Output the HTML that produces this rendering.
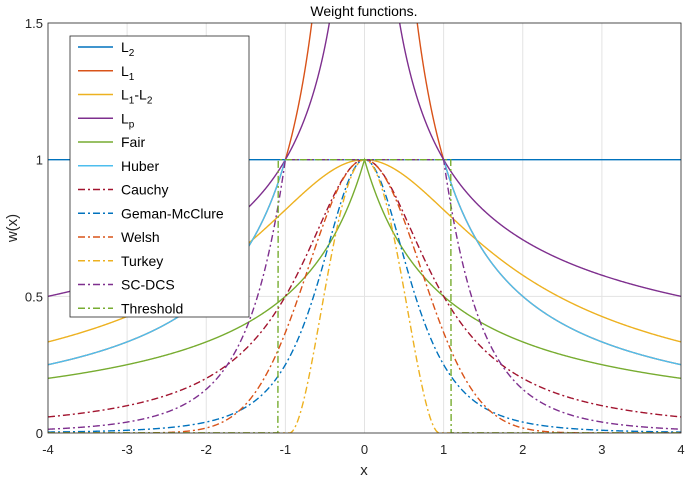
<!DOCTYPE html>
<html><head><meta charset="utf-8"><style>
body{margin:0;background:#fff}
svg{font-family:"Liberation Sans",Arial,sans-serif}
</style></head><body>
<svg id="chart" width="685" height="486">
<defs><clipPath id="clip"><rect x="48" y="23" width="633" height="410"/></clipPath></defs>
<rect x="48" y="23" width="633" height="410" fill="#fff"/>
<g id="grid"></g>
<g id="series" clip-path="url(#clip)"></g>
<rect x="48" y="23" width="633" height="410" fill="none" stroke="#262626" stroke-width="0.8"/>
<g id="ticks"></g>
<text x="364" y="16" text-anchor="middle" font-size="14" fill="#000">Weight functions.</text>
<text x="364" y="475" text-anchor="middle" font-size="15" fill="#262626">x</text>
<text transform="translate(17,228) rotate(-90)" text-anchor="middle" font-size="15" fill="#262626">w(x)</text>
<g id="legend"></g>
</svg>
<script>
const xTicks=[-4,-3,-2,-1,0,1,2,3,4];
const yTicks=[0,0.5,1,1.5];
const yTickLabels=["0","0.5","1","1.5"];
const seriesNames=["L2","L1","L1-L2","Lp","Fair","Huber","Cauchy","Geman-McClure","Welsh","Turkey","SC-DCS","Threshold"];
const seriesColors=["#0072BD","#D95319","#EDB120","#7E2F8E","#77AC30","#4DBEEE","#A2142F","#0072BD","#D95319","#EDB120","#7E2F8E","#77AC30"];
const seriesDash=[0,0,0,0,0,0,1,1,1,1,1,1];
const fairC=[1];
const lpP=[1.5];
const turkeyC=[0.95];
const dcsPhi=[1];
const thresholdC=[1.09];
const X0=48,X1=681,Y0=433,Y1=23;
const sx=v=>X0+(v+4)/8*(X1-X0);
const sy=v=>Y0-v/1.5*(Y0-Y1);
const fns=[
 x=>1,
 x=>1/Math.abs(x),
 x=>1/Math.sqrt(1+x*x/2),
 x=>Math.pow(Math.abs(x),lpP[0]-2),
 x=>1/(1+Math.abs(x)/fairC[0]),
 x=>Math.abs(x)<=1?1:1/Math.abs(x),
 x=>1/(1+x*x),
 x=>1/Math.pow(1+x*x,2),
 x=>Math.exp(-x*x),
 x=>Math.abs(x)<turkeyC[0]?Math.pow(1-(x/turkeyC[0])**2,2):0,
 x=>Math.min(1,4*dcsPhi[0]/Math.pow(dcsPhi[0]+x*x,2)),
 x=>Math.abs(x)<thresholdC[0]?1:0
];
const NS="http://www.w3.org/2000/svg";
function mk(t,a,p){const e=document.createElementNS(NS,t);for(const k in a)e.setAttribute(k,a[k]);p.appendChild(e);return e;}
const grid=document.getElementById('grid'),ticks=document.getElementById('ticks');
xTicks.forEach(v=>{
 const l=mk('line',{x1:sx(v),x2:sx(v),y1:Y1,y2:Y0,stroke:'#e3e3e3','stroke-width':1},grid);
 
 
 const t=mk('text',{x:sx(v),y:454,'text-anchor':'middle','font-size':13,fill:'#262626'},ticks);
 t.textContent=String(v);
 
 
});
yTicks.forEach((v,i)=>{
 const l=mk('line',{x1:X0,x2:X1,y1:sy(v),y2:sy(v),stroke:'#e3e3e3','stroke-width':1},grid);
 
 
 const t=mk('text',{x:43,y:sy(v)+5,'text-anchor':'end','font-size':13,fill:'#262626'},ticks);
 t.textContent=yTickLabels[i];
 
 
});
const ser=document.getElementById('series');
fns.forEach((f,i)=>{
 let d='',pen=false;
 for(let k=0;k<=1600;k++){
  const x=-4+8*k/1600;
  let y=f(x);
  if(!isFinite(y)||y>3){pen=false;continue;}
  d+=(pen?'L':'M')+sx(x).toFixed(2)+','+sy(y).toFixed(2);pen=true;
 }
 const p=mk('path',{d:d,fill:'none',stroke:seriesColors[i],'stroke-width':1.4},ser);
 if(seriesDash[i])p.setAttribute('stroke-dasharray','7,3,2,3');
 
 
});
const leg=document.getElementById('legend');
const box=mk('rect',{x:70,y:36,width:179,height:281,fill:'#fff',stroke:'#262626','stroke-width':0.8},leg);


const labelsHtml=[["L","2"],["L","1"],["L","1","-L","2"],["L","p"]];
seriesNames.forEach((n,i)=>{
 const y=47+i*23.75;
 const l=mk('line',{x1:78,x2:113,y1:y,y2:y,stroke:seriesColors[i],'stroke-width':1.4},leg);
 if(seriesDash[i])l.setAttribute('stroke-dasharray','7,3,2,3');
 
 
 const t=mk('text',{x:121,y:y+5,'font-size':14,fill:'#000'},leg);
 if(i<4){
  const parts=labelsHtml[i];
  for(let j=0;j<parts.length;j++){
   const s=mk('tspan',{},t);
   if(j%2==1){s.setAttribute('font-size','10');s.setAttribute('dy','4');}
   else if(j>0){s.setAttribute('dy','-4');}
   s.textContent=parts[j];
  }
 } else t.textContent=n;
 
 
});
</script>
</body></html>
